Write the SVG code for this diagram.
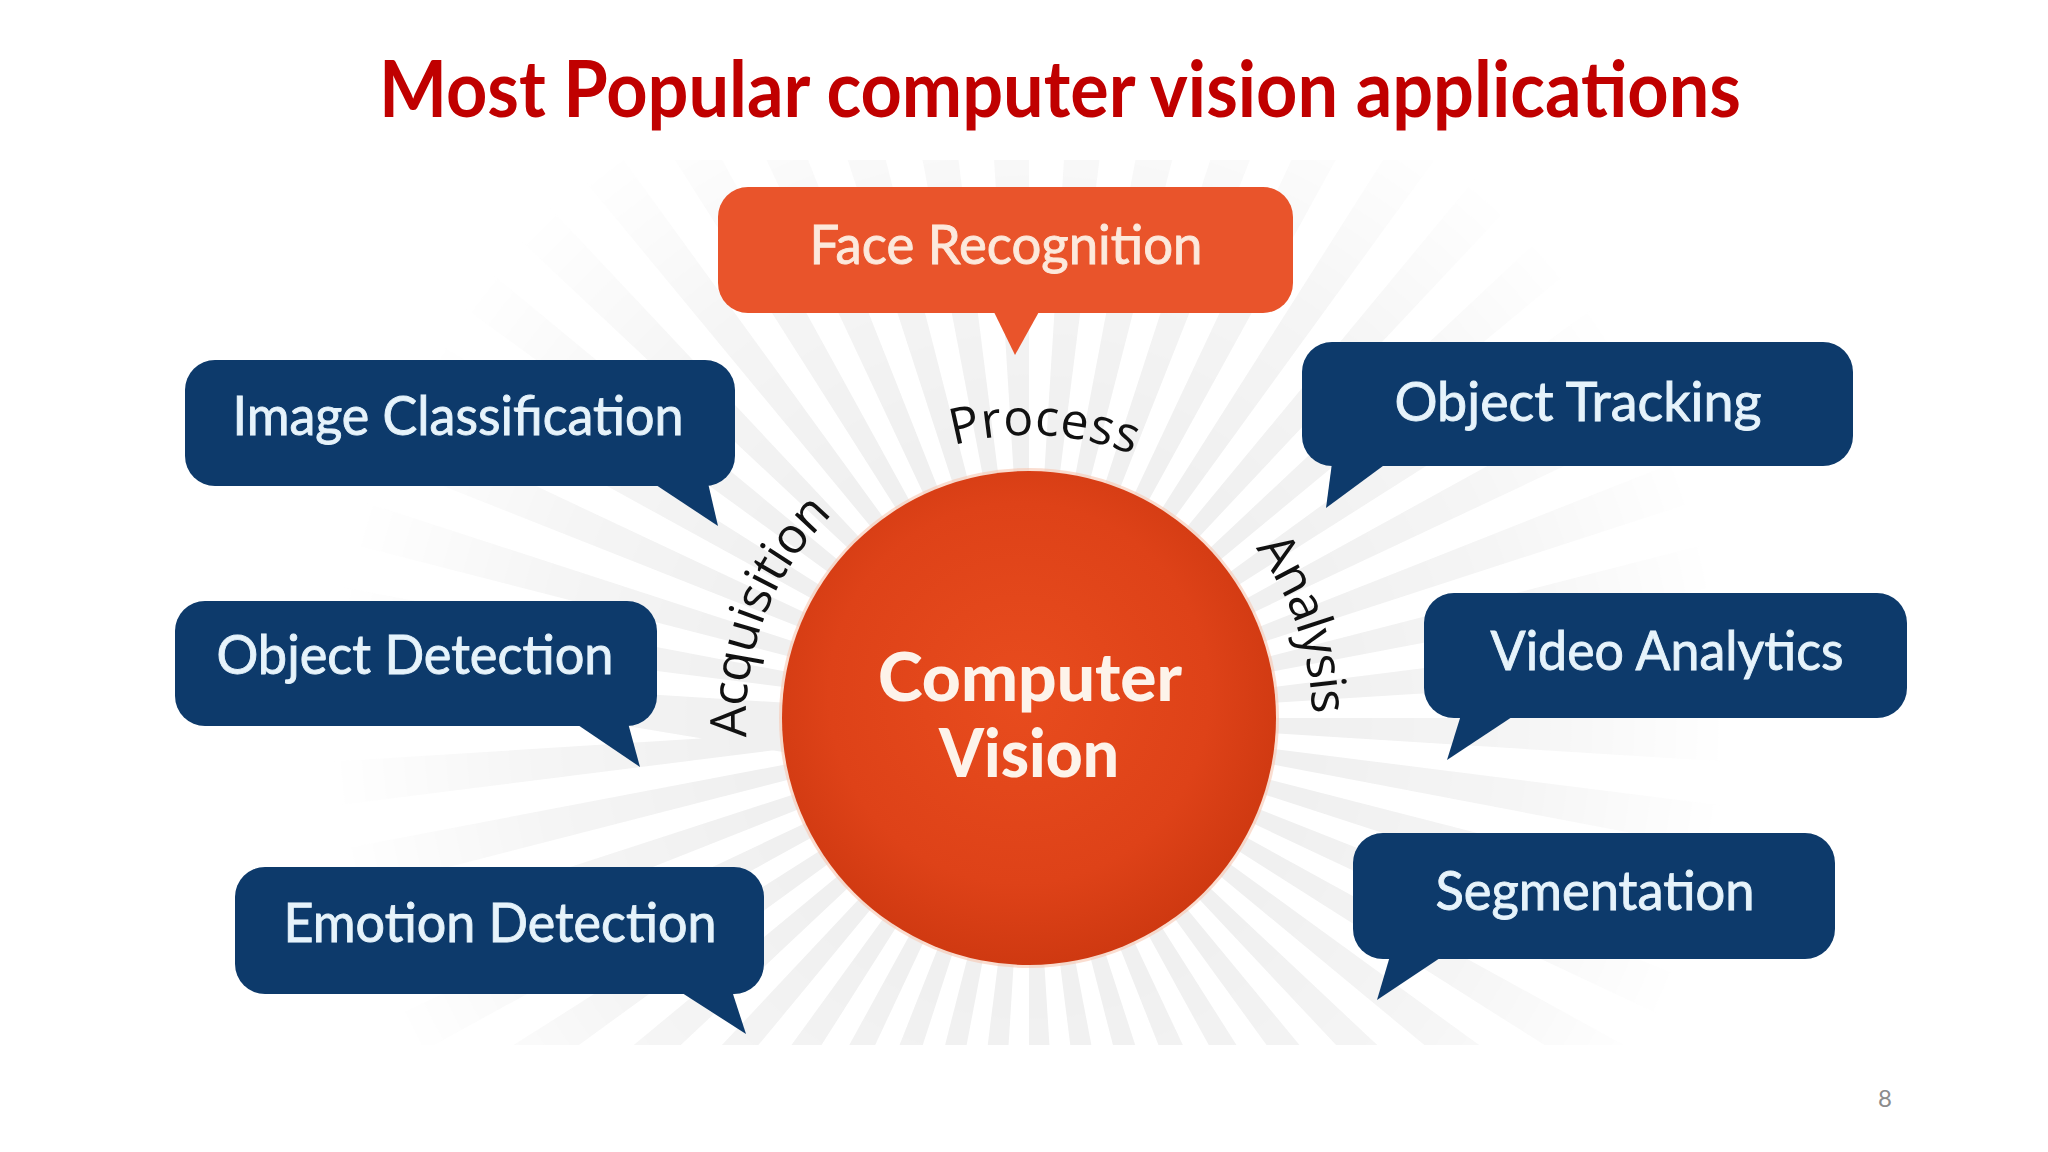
<svg xmlns="http://www.w3.org/2000/svg" width="2048" height="1152" viewBox="0 0 2048 1152">
  <defs>
    <radialGradient id="fadeGrad" gradientUnits="userSpaceOnUse" cx="1029" cy="718" r="700">
      <stop offset="0" stop-color="#fff"/>
      <stop offset="0.4" stop-color="#fff"/>
      <stop offset="0.7" stop-color="#aaa"/>
      <stop offset="1" stop-color="#000"/>
    </radialGradient>
    <mask id="fade" maskUnits="userSpaceOnUse" x="0" y="0" width="2048" height="1152">
      <rect x="0" y="160" width="2048" height="885" fill="url(#fadeGrad)"/>
    </mask>
    <radialGradient id="ball" cx="0.48" cy="0.45" r="0.55">
      <stop offset="0" stop-color="#e84c1e"/>
      <stop offset="0.7" stop-color="#de4218"/>
      <stop offset="1" stop-color="#cf3911"/>
    </radialGradient>
    <path id="ring" d="M 1029 1001 A 283 283 0 1 1 1029 435 A 283 283 0 1 1 1029 1001"/>
    <style>
      .navy { fill: #0d3a6b; }
      .orange { fill: #e9542b; }
      .lbl { font-family: Lato, "Open Sans", "Liberation Sans", sans-serif; font-size: 54px; text-anchor: middle; fill: #e6f3fb; stroke: #e6f3fb; stroke-width: 0.9px; }
      .lbl-o { fill: #fce9dc; stroke: #fce9dc; }
      .arc { font-family: "Open Sans", Lato, "Liberation Sans", sans-serif; font-size: 50px; fill: #111111; }
      .title { font-family: Lato, "Liberation Sans", sans-serif; font-weight: bold; font-size: 78px; fill: #c00000; }
      .cv { font-family: Lato, "Liberation Sans", sans-serif; font-weight: 900; font-size: 67px; fill: #fdf3ea; text-anchor: middle; }
    </style>
  </defs>

  <rect x="0" y="0" width="2048" height="1152" fill="#ffffff"/>

  <text class="title" x="379" y="117" textLength="1362" lengthAdjust="spacingAndGlyphs">Most Popular computer vision applications</text>

  <g id="sunburst" mask="url(#fade)">
    <circle cx="1029" cy="718" r="450" fill="none" stroke="#f0f0f0" stroke-width="720" pathLength="360" stroke-dasharray="3.6 3.6"/>
  </g>

  <g id="face-recognition">
    <rect class="orange" x="718" y="187" width="575" height="126" rx="30"/>
    <polygon class="orange" points="993,310 1040,310 1015,355"/>
    <text class="lbl lbl-o" x="1006" y="264" textLength="393" lengthAdjust="spacingAndGlyphs">Face Recognition</text>
  </g>

  <g id="image-classification">
    <rect class="navy" x="185" y="360" width="550" height="126" rx="30"/>
    <polygon class="navy" points="653,483 708,483 718,526"/>
    <text class="lbl" x="458" y="435" textLength="451" lengthAdjust="spacingAndGlyphs">Image Classification</text>
  </g>

  <g id="object-detection">
    <rect class="navy" x="175" y="601" width="482" height="125" rx="30"/>
    <polygon class="navy" points="575,723 628,723 640,767"/>
    <text class="lbl" x="415" y="674" textLength="397" lengthAdjust="spacingAndGlyphs">Object Detection</text>
  </g>

  <g id="emotion-detection">
    <rect class="navy" x="235" y="867" width="529" height="127" rx="30"/>
    <polygon class="navy" points="679,991 732,991 746,1034"/>
    <text class="lbl" x="500" y="942" textLength="433" lengthAdjust="spacingAndGlyphs">Emotion Detection</text>
  </g>

  <g id="object-tracking">
    <rect class="navy" x="1302" y="342" width="551" height="124" rx="30"/>
    <polygon class="navy" points="1332,463 1387,463 1326,508"/>
    <text class="lbl" x="1578" y="421" textLength="367" lengthAdjust="spacingAndGlyphs">Object Tracking</text>
  </g>

  <g id="video-analytics">
    <rect class="navy" x="1424" y="593" width="483" height="125" rx="30"/>
    <polygon class="navy" points="1461,715 1515,715 1447,760"/>
    <text class="lbl" x="1667" y="670" textLength="353" lengthAdjust="spacingAndGlyphs">Video Analytics</text>
  </g>

  <g id="segmentation">
    <rect class="navy" x="1353" y="833" width="482" height="126" rx="30"/>
    <polygon class="navy" points="1390,956 1443,956 1377,1000"/>
    <text class="lbl" x="1595" y="910" textLength="319" lengthAdjust="spacingAndGlyphs">Segmentation</text>
  </g>

  <g id="computer-vision">
    <circle cx="1029" cy="718" r="250" fill="#f6c6b0" opacity="0.6"/>
    <circle cx="1029" cy="718" r="247" fill="url(#ball)"/>
    <text class="cv" x="1030" y="701" textLength="304" lengthAdjust="spacingAndGlyphs">Computer</text>
    <text class="cv" x="1029" y="777" textLength="180" lengthAdjust="spacingAndGlyphs">Vision</text>
  </g>

  <g id="stage-labels">
    <text class="arc"><textPath href="#ring" startOffset="425" textLength="247" lengthAdjust="spacing">Acquisition</textPath></text>
    <text class="arc"><textPath href="#ring" startOffset="812" textLength="183" lengthAdjust="spacing">Process</textPath></text>
    <text class="arc"><textPath href="#ring" startOffset="1151" textLength="178" lengthAdjust="spacing">Analysis</textPath></text>
  </g>

  <text x="1885" y="1107" font-family="Lato, 'Liberation Sans', sans-serif" font-size="24" fill="#8c8c8c" text-anchor="middle">8</text>
</svg>
